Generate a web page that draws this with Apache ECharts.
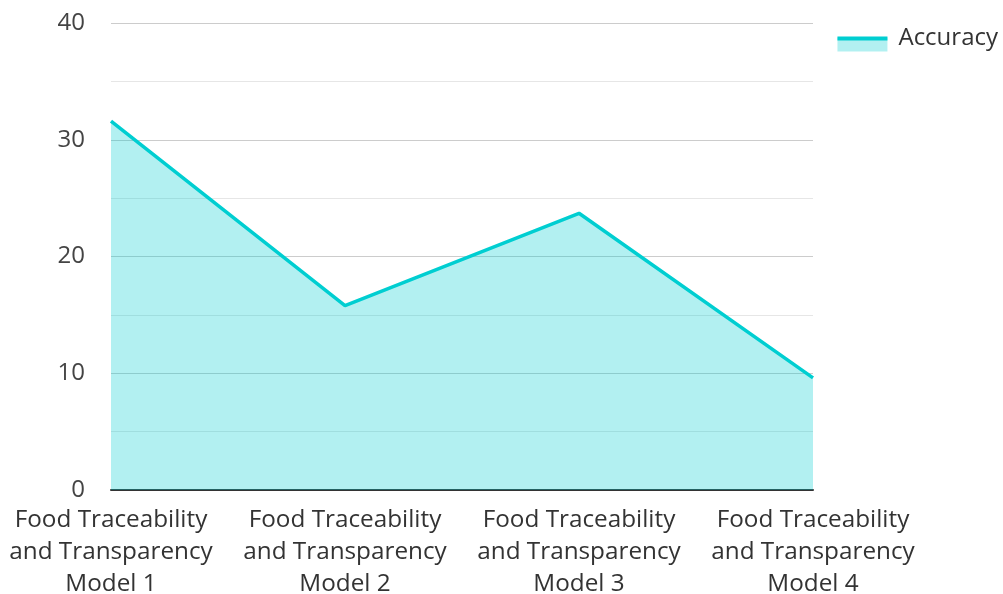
<!DOCTYPE html>
<html>
<head>
<meta charset="utf-8">
<script src="https://cdn.jsdelivr.net/npm/echarts@6/dist/echarts.min.js"></script>
<style>html,body{margin:0;padding:0;background:#fff}#c{width:1003px;height:594px}</style>
</head>
<body>
<div id="c"></div>
<script>
const categories = [
  "Food Traceability\nand Transparency\nModel 1",
  "Food Traceability\nand Transparency\nModel 2",
  "Food Traceability\nand Transparency\nModel 3",
  "Food Traceability\nand Transparency\nModel 4"
];
const accuracy = [31.6, 15.8, 23.7, 9.6];
const seriesName = "Accuracy";

const chart = echarts.init(document.getElementById('c'));
chart.setOption({
  animation: false,
  textStyle: { fontFamily: 'Open Sans' },
  grid: { left: 111, right: 190, top: 23, bottom: 104, containLabel: false, outerBoundsMode: 'none' },
  legend: [{
    right: 0, top: 27,
    icon: 'rect',
    itemWidth: 50, itemHeight: 14, itemGap: 10,
    itemStyle: { color: 'rgba(0,206,209,0.3)' },
    lineStyle: { width: 0, opacity: 0 },
    textStyle: { fontSize: 24, lineHeight: 25, padding: [0, 0, 0, 6], color: 'rgba(0,0,0,0)', fontFamily: 'Open Sans' },
    data: [seriesName]
  }, {
    right: 0, top: 21,
    icon: 'rect',
    itemWidth: 50, itemHeight: 4, itemGap: 10,
    itemStyle: { color: '#00CED1' },
    lineStyle: { width: 0, opacity: 0 },
    textStyle: { fontSize: 24, lineHeight: 25, padding: [0, 0, 0, 6], color: '#333', fontFamily: 'Open Sans' },
    data: [seriesName]
  }],
  xAxis: {
    type: 'category',
    data: categories,
    boundaryGap: false,
    axisLine: { lineStyle: { color: '#333', width: 2 } },
    axisTick: { show: false },
    axisLabel: { fontSize: 24.3, color: '#333', lineHeight: 32, margin: 14, interval: 0, fontFamily: 'Open Sans' },
    splitLine: { show: false }
  },
  yAxis: {
    type: 'value',
    min: 0, max: 40, interval: 10,
    axisLine: { show: false },
    axisTick: { show: false },
    axisLabel: { fontSize: 24, color: '#444', margin: 26, fontFamily: 'Open Sans' },
    splitLine: { lineStyle: { color: '#cccccc', width: 1 } },
    minorTick: { show: false, splitNumber: 2 },
    minorSplitLine: { show: true, lineStyle: { color: '#e6e6e6', width: 1 } }
  },
  series: [{
    name: seriesName,
    type: 'line',
    data: accuracy,
    symbol: 'none',
    lineStyle: { color: '#00CED1', width: 3.5 },
    itemStyle: { color: '#00CED1' },
    areaStyle: { color: '#00CED1', opacity: 0.3 }
  }]
});
</script>
</body>
</html>
